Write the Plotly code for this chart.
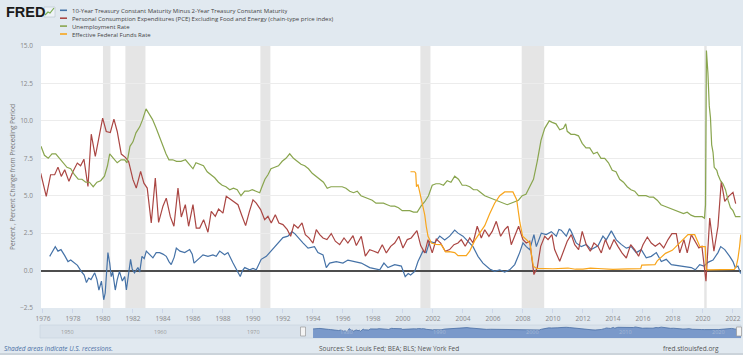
import plotly.graph_objects as go
from datetime import datetime, timedelta

# ---------------- DATA ----------------
SERIES_NAMES = [
    "10-Year Treasury Constant Maturity Minus 2-Year Treasury Constant Maturity",
    "Personal Consumption Expenditures (PCE) Excluding Food and Energy (chain-type price index)",
    "Unemployment Rate",
    "Effective Federal Funds Rate",
]
COLORS = ["#4572a7", "#aa4643", "#89a54e", "#f8a51c"]

# 10Y-2Y spread (decimal year, percent)
spread_t = [1976.45, 1976.65, 1976.82, 1977.0, 1977.2, 1977.45, 1977.67, 1977.85, 1978.1, 1978.3,
            1978.55, 1978.75, 1978.9, 1979.05, 1979.2, 1979.45, 1979.6, 1979.73, 1979.9, 1980.05,
            1980.15, 1980.33, 1980.45, 1980.55, 1980.65, 1980.82, 1980.95, 1981.1, 1981.29, 1981.45,
            1981.56, 1981.7, 1981.84, 1981.95, 1982.1, 1982.33, 1982.45, 1982.6, 1982.75, 1982.89,
            1983.1, 1983.33, 1983.55, 1983.78, 1984.0, 1984.22, 1984.4, 1984.55, 1984.75, 1984.89,
            1985.13, 1985.45, 1985.78, 1985.95, 1986.07, 1986.33, 1986.67, 1987.0, 1987.33, 1987.55,
            1987.78, 1988.11, 1988.33, 1988.67, 1988.95, 1989.15, 1989.3, 1989.45, 1989.78, 1990.0,
            1990.22, 1990.55, 1990.89, 1991.1, 1991.33, 1991.67, 1992.0, 1992.33, 1992.6, 1992.8,
            1993.0, 1993.33, 1993.67, 1994.1, 1994.33, 1994.67, 1994.89, 1995.11, 1995.55, 1996.0,
            1996.33, 1996.78, 1997.22, 1997.78, 1998.22, 1998.45, 1998.73, 1999.0, 1999.45, 1999.89,
            2000.15, 2000.35, 2000.51, 2000.78, 2001.0, 2001.33, 2001.55, 2001.78, 2002.11, 2002.45,
            2002.78, 2003.11, 2003.45, 2003.67, 2004.0, 2004.33, 2004.67, 2005.0, 2005.33, 2005.78,
            2006.11, 2006.45, 2006.78, 2007.11, 2007.45, 2007.78, 2008.0, 2008.22, 2008.45, 2008.73,
            2008.89, 2009.22, 2009.55, 2009.89, 2010.22, 2010.4, 2010.55, 2010.89, 2011.1, 2011.22,
            2011.55, 2011.89, 2012.22, 2012.55, 2013.0, 2013.33, 2013.55, 2013.89, 2014.22, 2014.55,
            2014.89, 2015.22, 2015.55, 2015.89, 2016.22, 2016.55, 2016.89, 2017.22, 2017.55, 2017.89,
            2018.22, 2018.55, 2018.89, 2019.22, 2019.49, 2019.78, 2020.07, 2020.33, 2020.67, 2021.0,
            2021.18, 2021.45, 2021.78, 2022.0, 2022.15, 2022.33, 2022.51]
spread_v = [0.95, 1.3, 1.6, 1.3, 1.4, 1.0, 0.6, 0.7, 0.5, 0.35,
            -0.05, -0.3, -0.8, -0.5, -0.6, -0.15, -0.6, -1.3, -0.7, -1.95,
            -1.5, 1.2, 0.5, -0.4, -0.1, -1.3, -0.6, -0.05, -0.7, -0.4,
            -1.3, -0.2, 0.75, 0.1, -0.15, 0.2, -0.1, 0.95, 0.8, 1.3,
            1.1, 0.85, 1.2, 1.2, 1.1, 0.95, 0.6, 0.4, 0.9, 1.5,
            1.3, 1.2, 1.4, 1.1, 0.5, 0.75, 1.05, 0.95, 1.05, 0.95,
            1.3, 1.05, 1.2, 0.5, -0.05, -0.4, 0.0, 0.2, 0.05, 0.15,
            0.05, 0.75, 0.95, 1.2, 1.4, 1.85, 2.2, 2.3, 2.6, 2.45,
            2.2, 1.85, 1.5, 1.6, 1.2, 1.05, 0.2, 0.5, 0.6, 0.5,
            0.7, 0.6, 0.5, 0.2, 0.1, 0.05, 0.5, 0.2, 0.4, 0.3,
            -0.4, -0.2, -0.3, -0.05, 0.6, 1.3, 1.2, 1.95, 1.85, 2.3,
            2.05, 2.3, 2.7, 2.5, 2.3, 1.95, 1.6, 0.95, 0.5, 0.1,
            -0.05, 0.05, -0.1, 0.05, 0.4, 1.2, 1.85, 1.6, 1.4, 2.4,
            1.6, 2.5, 2.4, 2.6, 2.3, 2.75, 2.7, 2.3, 2.8, 2.6,
            1.85, 1.6, 1.75, 1.4, 1.65, 2.3, 2.05, 2.65, 2.05, 1.75,
            1.5, 1.6, 1.2, 1.4, 0.85, 0.95, 1.2, 0.6, 0.75, 0.4,
            0.35, 0.3, 0.2, 0.2, 0.05, 0.4, 0.3, 0.55, 0.7, 1.2,
            1.6, 1.4, 0.95, 0.6, 0.2, 0.3, -0.2]

# Core PCE, percent change from preceding period (quarterly)
pce_t = [1975.85, 1976.22, 1976.51, 1976.78, 1977.0, 1977.22, 1977.45, 1977.73, 1978.0, 1978.29,
         1978.51, 1978.73, 1979.0, 1979.22, 1979.49, 1979.73, 1979.98, 1980.22, 1980.49, 1980.73,
         1980.95, 1981.22, 1981.49, 1981.71, 1982.0, 1982.22, 1982.51, 1982.73, 1982.95, 1983.22,
         1983.49, 1983.71, 1984.0, 1984.22, 1984.49, 1984.73, 1985.0, 1985.22, 1985.49, 1985.71,
         1986.0, 1986.22, 1986.45, 1986.71, 1987.0, 1987.22, 1987.49, 1987.71, 1988.0, 1988.22,
         1988.5, 1988.78, 1989.0, 1989.25, 1989.51, 1989.75, 1990.0, 1990.22, 1990.51, 1990.78,
         1991.0, 1991.22, 1991.49, 1991.73, 1992.0, 1992.29, 1992.51, 1992.73, 1993.0, 1993.27,
         1993.49, 1993.73, 1994.0, 1994.22, 1994.45, 1994.67, 1994.93, 1995.22, 1995.49, 1995.78,
         1996.07, 1996.33, 1996.67, 1996.89, 1997.22, 1997.49, 1997.78, 1998.07, 1998.33, 1998.62,
         1998.89, 1999.18, 1999.45, 1999.73, 2000.0, 2000.29, 2000.55, 2000.93, 2001.18, 2001.45,
         2001.67, 2001.95, 2002.22, 2002.51, 2002.82, 2003.11, 2003.4, 2003.67, 2003.89, 2004.15,
         2004.45, 2004.67, 2004.95, 2005.22, 2005.45, 2005.73, 2005.95, 2006.22, 2006.51, 2006.78,
         2007.0, 2007.22, 2007.45, 2007.71, 2008.0, 2008.22, 2008.45, 2008.73, 2008.95, 2009.18,
         2009.45, 2009.67, 2009.93, 2010.11, 2010.45, 2010.73, 2010.95, 2011.22, 2011.45, 2011.71,
         2011.95, 2012.22, 2012.49, 2012.73, 2013.0, 2013.22, 2013.49, 2013.78, 2014.07, 2014.33,
         2014.6, 2014.89, 2015.18, 2015.45, 2015.71, 2016.0, 2016.29, 2016.55, 2016.82, 2017.11,
         2017.38, 2017.67, 2017.93, 2018.22, 2018.45, 2018.73, 2018.95, 2019.22, 2019.49, 2019.73,
         2019.93, 2020.2, 2020.45, 2020.73, 2021.0, 2021.22, 2021.45, 2021.71, 2022.0, 2022.18]
pce_v = [6.5, 4.96, 6.4, 6.4, 6.91, 6.29, 6.73, 5.96, 6.62, 7.18,
         7.0, 7.44, 5.62, 9.11, 7.62, 8.89, 10.18, 9.29, 9.22, 10.11,
         9.29, 7.78, 7.56, 7.29, 6.07, 5.51, 6.62, 5.84, 5.51, 3.18,
         6.18, 3.22, 4.3, 4.84, 3.6, 2.96, 5.51, 3.58, 4.4, 2.96,
         4.4, 2.84, 2.84, 3.4, 2.56, 3.96, 3.62, 4.11, 3.84, 4.96,
         4.75, 4.51, 4.4, 3.7, 3.0, 3.9, 4.73, 4.51, 4.07, 3.4,
         3.62, 3.18, 3.73, 3.18, 3.07, 2.73, 2.29, 3.07, 2.84, 3.18,
         2.4, 2.18, 1.84, 2.73, 2.4, 2.18, 2.07, 2.47, 1.96, 1.73,
         2.18, 1.84, 2.33, 1.67, 2.29, 0.96, 1.4, 1.29, 1.18, 1.73,
         1.18, 1.62, 1.84, 2.29, 1.51, 2.07, 2.18, 2.67, 1.67, 1.18,
         2.07, 1.18, 2.11, 1.84, 1.29, 1.4, 1.73, 1.84, 2.07, 1.62,
         2.18, 1.84, 2.96, 2.18, 2.73, 2.29, 2.62, 3.29, 2.29, 2.73,
         2.96, 1.73, 2.29, 2.96, 2.07, 1.84, 1.96, -0.27, 0.18, 1.62,
         2.29, 2.07, 2.4, 1.4, 0.62, 1.4, 1.96, 2.4, 1.73, 1.4,
         2.62, 1.73, 1.29, 1.84, 1.62, 1.18, 2.07, 1.4, 2.07, 1.62,
         1.18, 0.84, 1.73, 1.4, 0.96, 1.73, 2.24, 1.84, 1.62, 1.84,
         1.51, 2.07, 2.47, 2.47, 1.18, 2.07, 1.18, 2.4, 1.96, 1.51,
         1.62, -0.71, 3.51, 1.29, 2.96, 5.96, 4.62, 4.96, 5.22, 4.47]

# Unemployment rate (percent)
unrate_t = [1975.87, 1976.1, 1976.35, 1976.6, 1976.85, 1977.1, 1977.35, 1977.6, 1977.85, 1978.1,
            1978.35, 1978.6, 1978.85, 1979.1, 1979.35, 1979.6, 1979.85, 1980.1, 1980.3, 1980.45,
            1980.7, 1980.95, 1981.2, 1981.45, 1981.6, 1981.8, 1982.0, 1982.2, 1982.45, 1982.65,
            1982.87, 1983.05, 1983.3, 1983.55, 1983.8, 1984.0, 1984.2, 1984.4, 1984.65, 1984.9,
            1985.2, 1985.5, 1985.75, 1986.0, 1986.2, 1986.45, 1986.7, 1986.95, 1987.2, 1987.45,
            1987.7, 1987.95, 1988.2, 1988.45, 1988.7, 1988.95, 1989.2, 1989.45, 1989.7, 1989.95,
            1990.2, 1990.45, 1990.6, 1990.8, 1991.0, 1991.2, 1991.45, 1991.7, 1991.95, 1992.2,
            1992.45, 1992.7, 1992.95, 1993.2, 1993.45, 1993.7, 1993.95, 1994.2, 1994.45, 1994.7,
            1994.95, 1995.2, 1995.45, 1995.7, 1995.95, 1996.2, 1996.45, 1996.7, 1996.95, 1997.2,
            1997.45, 1997.7, 1997.95, 1998.2, 1998.45, 1998.7, 1998.95, 1999.2, 1999.45, 1999.7,
            1999.95, 2000.2, 2000.45, 2000.7, 2000.95, 2001.2, 2001.45, 2001.7, 2001.95, 2002.2,
            2002.45, 2002.7, 2002.95, 2003.2, 2003.45, 2003.7, 2003.95, 2004.2, 2004.45, 2004.7,
            2004.95, 2005.2, 2005.45, 2005.7, 2005.95, 2006.2, 2006.45, 2006.7, 2006.95, 2007.2,
            2007.45, 2007.7, 2007.95, 2008.2, 2008.45, 2008.7, 2008.95, 2009.2, 2009.45, 2009.75,
            2009.95, 2010.2, 2010.45, 2010.7, 2010.85, 2010.95, 2011.2, 2011.45, 2011.7, 2011.95,
            2012.2, 2012.45, 2012.7, 2012.95, 2013.2, 2013.45, 2013.7, 2013.95, 2014.2, 2014.45,
            2014.7, 2014.95, 2015.2, 2015.45, 2015.7, 2015.95, 2016.2, 2016.45, 2016.7, 2016.95,
            2017.2, 2017.45, 2017.7, 2017.95, 2018.2, 2018.45, 2018.7, 2018.95, 2019.2, 2019.45,
            2019.7, 2019.95, 2020.1, 2020.17, 2020.23, 2020.33, 2020.42, 2020.5, 2020.58, 2020.67,
            2020.75, 2020.92, 2021.0, 2021.17, 2021.33, 2021.5, 2021.67, 2021.83, 2022.0, 2022.17,
            2022.5]
unrate_v = [8.3, 7.7, 7.5, 7.8, 7.8, 7.5, 7.2, 6.9, 6.8, 6.4,
            6.1, 6.1, 5.9, 5.9, 5.6, 5.9, 6.0, 6.3, 7.0, 7.8,
            7.5, 7.2, 7.4, 7.4, 7.2, 8.3, 8.6, 9.2, 9.6, 10.1,
            10.8, 10.5, 10.1, 9.5, 8.8, 8.3, 7.8, 7.4, 7.4, 7.3,
            7.3, 7.4, 7.1, 6.8, 7.2, 7.1, 7.0, 6.6, 6.4, 6.2,
            5.9, 5.7, 5.6, 5.4, 5.5, 5.4, 5.0, 5.3, 5.3, 5.4,
            5.3, 5.2, 5.6, 6.1, 6.4, 6.8, 6.9, 7.0, 7.3, 7.5,
            7.8, 7.5, 7.3, 7.1, 7.0, 6.8, 6.5, 6.3, 6.1, 5.9,
            5.5, 5.6, 5.6, 5.6, 5.6, 5.5, 5.3, 5.2, 5.3, 5.0,
            4.9, 4.8, 4.7, 4.5, 4.5, 4.5, 4.4, 4.3, 4.3, 4.2,
            4.0, 4.0, 4.0, 3.9, 3.9, 4.3, 4.6, 5.0, 5.7, 5.8,
            5.8, 5.7, 6.0, 5.9, 6.3, 6.1, 5.7, 5.7, 5.6, 5.4,
            5.4, 5.2, 5.0, 4.9, 4.8, 4.7, 4.6, 4.5, 4.4, 4.5,
            4.6, 4.7, 5.0, 5.1, 5.6, 6.1, 7.3, 8.7, 9.5, 10.0,
            9.9, 9.8, 9.4, 9.5, 9.8, 9.3, 9.1, 9.1, 9.0, 8.5,
            8.2, 8.2, 7.8, 7.9, 7.5, 7.5, 7.2, 6.7, 6.6, 6.1,
            5.9, 5.6, 5.4, 5.3, 5.0, 5.0, 5.0, 4.9, 4.9, 4.7,
            4.4, 4.3, 4.2, 4.1, 4.0, 3.9, 3.8, 3.9, 3.7, 3.6,
            3.6, 3.6, 3.5, 4.4, 14.7, 13.2, 11.0, 10.2, 8.4, 7.9,
            6.9, 6.7, 6.4, 6.0, 5.8, 5.4, 4.7, 4.2, 4.0, 3.6,
            3.6]

# Effective federal funds rate (percent)
effr_t = [2000.5, 2000.78, 2000.85, 2000.9, 2001.0, 2001.22, 2001.45, 2001.55, 2001.67, 2001.89,
          2002.2, 2002.55, 2002.84, 2003.1, 2003.45, 2003.67, 2004.22, 2004.45, 2004.78, 2005.11,
          2005.45, 2005.78, 2006.11, 2006.45, 2006.78, 2007.0, 2007.33, 2007.58, 2007.8, 2007.98,
          2008.25, 2008.47, 2008.58, 2008.69, 2008.9, 2010.0, 2011.0, 2011.5, 2012.0, 2012.5,
          2013.0, 2014.0, 2015.0, 2015.85, 2015.92, 2016.8, 2016.95, 2017.2, 2017.5, 2017.95,
          2018.2, 2018.45, 2018.8, 2019.0, 2019.45, 2019.6, 2019.8, 2020.15, 2020.22, 2020.3,
          2021.0, 2022.1, 2022.22, 2022.33, 2022.44, 2022.52]
effr_v = [6.6, 6.6, 6.5, 5.6, 5.75, 4.73, 3.73, 2.96, 2.29, 1.84,
          1.75, 1.73, 1.25, 1.27, 1.2, 1.0, 1.0, 1.3, 2.0, 2.5,
          3.0, 3.8, 4.5, 5.0, 5.25, 5.25, 5.25, 4.73, 3.18, 2.29,
          2.07, 1.84, 0.96, 0.29, 0.15, 0.12, 0.17, 0.09, 0.1, 0.16,
          0.14, 0.08, 0.11, 0.12, 0.36, 0.4, 0.65, 0.9, 1.15, 1.35,
          1.6, 1.85, 2.2, 2.4, 2.4, 2.1, 1.6, 1.6, 0.1, 0.05,
          0.08, 0.08, 0.3, 0.8, 1.6, 2.4]

# NBER recessions
recessions = [("1980-01-01", "1980-07-01"), ("1981-07-01", "1982-11-01"),
              ("1990-07-01", "1991-03-01"), ("2001-03-01", "2001-11-01"),
              ("2007-12-01", "2009-06-01"), ("2020-02-01", "2020-04-01")]

nav_labels = [1950, 1960, 1970, 1980, 1990, 2000, 2010, 2020]

Y_TITLE = "Percent , Percent Change from Preceding Period"

# ---------------- helpers ----------------
W, H = 743, 355
ML, MR, MT, MB = 41, 2, 46, 17
PW, PH = W - ML - MR, H - MT - MB


def px(x):
    return (x - ML) / PW


def py(y):
    return (H - MB - y) / PH


def to_date(v):
    yr = int(v)
    start = datetime(yr, 1, 1)
    end = datetime(yr + 1, 1, 1)
    return start + (end - start) * (v - yr)


FONT = "Open Sans"
series = [(spread_t, spread_v), (pce_t, pce_v), (unrate_t, unrate_v), (effr_t, effr_v)]

fig = go.Figure()
for (t, v), name, col in zip(series, SERIES_NAMES, COLORS):
    fig.add_trace(go.Scatter(x=[to_date(a) for a in t], y=v, mode="lines", name=name,
                             line=dict(color=col, width=1.2), xaxis="x", yaxis="y",
                             showlegend=False))

# navigator (mini chart)
NAV_FLOOR = -7.8
nav_x = [to_date(a) for a in spread_t]
fig.add_trace(go.Scatter(x=nav_x, y=[NAV_FLOOR] * len(nav_x), mode="lines",
                         line=dict(width=0), xaxis="x2", yaxis="y2", showlegend=False,
                         hoverinfo="skip"))
fig.add_trace(go.Scatter(x=nav_x, y=spread_v, mode="lines", fill="tonexty",
                         fillcolor="rgba(105,140,196,0.85)",
                         line=dict(color="#4a6fa5", width=0.8), xaxis="x2", yaxis="y2",
                         showlegend=False, hoverinfo="skip"))

shapes = []
for s, e in recessions:
    shapes.append(dict(type="rect", xref="x", yref="y domain", x0=s, x1=e, y0=0, y1=1,
                       fillcolor="#e5e5e5", line=dict(width=0), layer="below"))
# navigator background
shapes.append(dict(type="rect", xref="paper", yref="paper", x0=px(40), x1=px(741),
                   y0=py(338), y1=py(325), fillcolor="#d9e2eb",
                   line=dict(color="#c8d3de", width=0.6), layer="below"))
# navigator handles
for hx in (303, 739):
    shapes.append(dict(type="rect", xref="paper", yref="paper", x0=px(hx - 2.5), x1=px(hx + 2.5),
                       y0=py(336), y1=py(327), fillcolor="#f4f4f4",
                       line=dict(color="#999999", width=0.7)))
# legend swatches
leg_y = [10.3, 18.2, 26.1, 34.0]
for yy, col in zip(leg_y, COLORS):
    shapes.append(dict(type="line", xref="paper", yref="paper", x0=px(60), x1=px(67),
                       y0=py(yy), y1=py(yy), line=dict(color=col, width=1.6)))
# logo icon
shapes.append(dict(type="rect", xref="paper", yref="paper", x0=px(44), x1=px(55),
                   y0=py(17), y1=py(7), fillcolor="#eef3f7", line=dict(color="#b7c4cf", width=0.6)))
shapes.append(dict(type="path", xref="paper", yref="paper",
                   path=f"M {px(45)},{py(15)} L {px(48)},{py(12)} L {px(50)},{py(13)} L {px(54)},{py(8)}",
                   line=dict(color="#7bab52", width=1.2)))
# bottom rule
shapes.append(dict(type="line", xref="paper", yref="paper", x0=px(0), x1=px(743),
                   y0=py(354), y1=py(354), line=dict(color="#c3cbd3", width=1.5)))

annotations = []
annotations.append(dict(xref="paper", yref="paper", x=px(4), y=py(12), text="<b>FRED</b>",
                        showarrow=False, xanchor="left", yanchor="middle",
                        font=dict(family="Liberation Sans", size=14.5, color="#1a1a1a")))
for yy, name in zip(leg_y, SERIES_NAMES):
    annotations.append(dict(xref="paper", yref="paper", x=px(70), y=py(yy), text=name,
                            showarrow=False, xanchor="left", yanchor="middle", height=7,
                            font=dict(family=FONT, size=6.0, color="#444444")))
for yr in nav_labels:
    annotations.append(dict(xref="x2", yref="paper", x=f"{yr}-01-01", y=py(331.5), text=str(yr),
                            showarrow=False, xanchor="center", yanchor="middle",
                            font=dict(family=FONT, size=5.5,
                                      color="#9a9a9a" if yr < 1976 else "#a7b9d6")))
annotations.append(dict(xref="paper", yref="paper", x=px(2), y=py(348.5),
                        text="<i>Shaded areas indicate U.S. recessions.</i>", showarrow=False,
                        xanchor="left", yanchor="middle",
                        font=dict(family=FONT, size=6.5, color="#4a6fa5")))
annotations.append(dict(xref="paper", yref="paper", x=px(317), y=py(348.5),
                        text="Sources: St. Louis Fed; BEA; BLS; New York Fed", showarrow=False,
                        xanchor="left", yanchor="middle",
                        font=dict(family=FONT, size=6.5, color="#555555")))
annotations.append(dict(xref="paper", yref="paper", x=px(661), y=py(348.5),
                        text="fred.stlouisfed.org", showarrow=False,
                        xanchor="left", yanchor="middle",
                        font=dict(family=FONT, size=6.5, color="#555555")))
annotations.append(dict(xref="paper", yref="paper", x=px(12), y=py(177), text=Y_TITLE,
                        textangle=-90, showarrow=False, xanchor="center", yanchor="middle",
                        font=dict(family=FONT, size=6.5, color="#777777")))

fig.update_layout(
    width=W, height=H,
    margin=dict(l=ML, r=MR, t=MT, b=MB, pad=0),
    paper_bgcolor="#e1e9f0",
    plot_bgcolor="white",
    font=dict(family=FONT, size=6.5, color="#888888"),
    showlegend=False,
    shapes=shapes,
    annotations=annotations,
    xaxis=dict(type="date", domain=[0, 1], anchor="y",
               range=[to_date(1975.87), to_date(2022.535)],
               tick0="1976-01-01", dtick="M24", tickformat="%Y",
               ticks="outside", ticklen=4, tickcolor="#ccd6eb", tickwidth=1,
               showgrid=False, showline=False, zeroline=False,
               tickfont=dict(family=FONT, size=6.5, color="#888888")),
    yaxis=dict(domain=[py(308), 1], anchor="x", range=[-2.5, 15], dtick=2.5, tick0=0,
               tickformat=".1f", showgrid=True, gridcolor="#ececec", gridwidth=1,
               zeroline=True, zerolinecolor="#4d4d4d", zerolinewidth=1.6,
               ticks="", ticklabelstandoff=7, showline=False,
               tickfont=dict(family=FONT, size=6.5, color="#888888")),
    xaxis2=dict(type="date", domain=[0, 1], anchor="y2",
                range=["1947-03-15", "2022-06-20"], showticklabels=False,
                showgrid=False, zeroline=False, ticks="", showline=False),
    yaxis2=dict(domain=[py(338), py(325)], anchor="x2", range=[NAV_FLOOR, 4.7],
                showticklabels=False, showgrid=False, zeroline=False, ticks="", showline=False),
)

fig.write_html("out.html", config={"displayModeBar": False},
               post_script="document.body.style.margin='0';document.body.style.overflow='hidden';")
